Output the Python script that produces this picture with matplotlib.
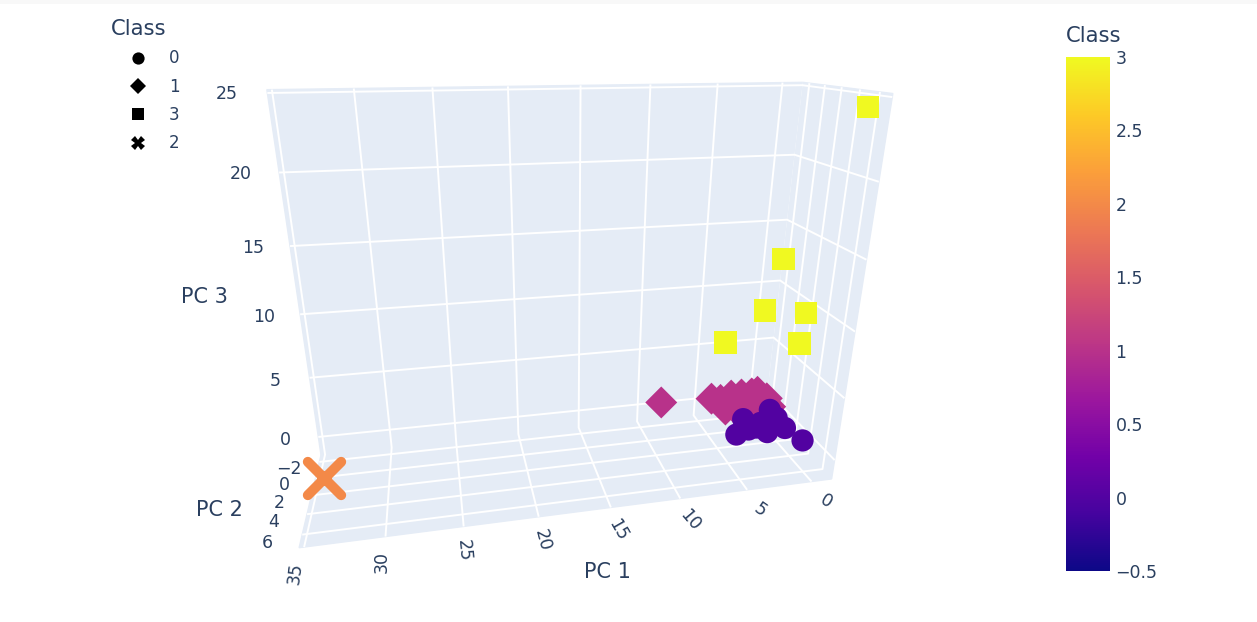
import matplotlib
matplotlib.use('Agg')
import matplotlib.pyplot as plt
from matplotlib.cm import ScalarMappable
from matplotlib.colors import LinearSegmentedColormap, Normalize
from matplotlib.lines import Line2D
from matplotlib.patches import Rectangle
from mpl_toolkits.mplot3d import proj3d

plt.rcParams['text.color'] = '#2a3f5f'
plt.rcParams['grid.color'] = 'white'
plt.rcParams['grid.linewidth'] = 1.4
plt.rcParams['grid.linestyle'] = '-'

################################################################################
# Values
# class 0
pc1_0 = [2.7, 1.7, 1.4, 0.4, -0.6, -1.0, 0.0, -1.55, 0.7, -2.3]
pc2_0 = [0.5, -0.5, 0.0, 0.0, -0.5, 0.0, 0.5, 0.5, 0.0, 2.0]
pc3_0 = [-1.6, -0.9, -1.6, -1.1, -0.3, -0.8, -1.7, -1.5, -1.5, -1.8]
# class 1
pc1_1 = [8.6, 4.4, 3.6, 3.6, 2.7, 1.8, 0.9, 0.4, -0.5, -0.6, 1.2, 2.6]
pc2_1 = [-1.2, -1.0, 0.0, -1.0, -1.0, -1.0, -1.0, -1.0, -1.0, -0.5, 0.0, 0.0]
pc3_1 = [1.0, 1.0, 0.5, 0.8, 1.1, 1.1, 1.1, 1.2, 0.5, 0.0, 0.2, 0.3]
# class 2
pc1_2 = [34.7]
pc2_2 = [0.0]
pc3_2 = [-1.7]
# class 3
pc1_3 = [-1.3, 0.6, 1.1, -0.5, 3.6, -0.3]
pc2_3 = [5.5, 1.0, 0.0, 3.0, -1.0, 3.0]
pc3_3 = [24.3, 13.2, 8.8, 9.7, 5.9, 7.3]

pc1_ticks = [0, 5, 10, 15, 20, 25, 30, 35]
pc2_ticks = [-2, 0, 2, 4, 6]
pc3_ticks = [0, 5, 10, 15, 20, 25]
pc1_rotations = [-30, -35, -50, -60, -75, -85, 90, 82]
cbar_ticks = [-0.5, 0, 0.5, 1, 1.5, 2, 2.5, 3]
cbar_labels = ['\u22120.5', '0', '0.5', '1', '1.5', '2', '2.5', '3']
legend_classes = ['0', '1', '3', '2']

plasma = ['#0d0887', '#46039f', '#7201a8', '#9c179e', '#bd3786',
          '#d8576b', '#ed7953', '#fb9f3a', '#fdca26', '#f0f921']

################################################################################
# Make figure
W, H = 1257, 622
fig = plt.figure(figsize=(W/100, H/100), dpi=100)
fig.add_artist(Rectangle((0, 1 - 4/H), 1, 4/H, transform=fig.transFigure, color='#f8f8f8', lw=0))

# box and camera were fitted to the corners of the box in the picture
xmin, xmax, ymin, ymax, zmin, zmax = -1.6, 35.3, -2.9, 7.2, -1.6, 25.2
size = 669.4
ax = fig.add_axes([225.5/W, -19.85/H, size/W, size/H], projection='3d')
ax.set_facecolor('none')
ax.set_xticks(pc1_ticks)
ax.set_yticks(pc2_ticks)
ax.set_zticks(pc3_ticks)
ax.set_xticklabels([])
ax.set_yticklabels([])
ax.set_zticklabels([])
ax.set_xlim(xmin, xmax, view_margin=0)
ax.set_ylim(ymin, ymax, view_margin=0)
ax.set_zlim(zmin, zmax, view_margin=0)
ax.view_init(20.7648, 78.6552)
ax.set_proj_type('persp', focal_length=0.19194)
ax.set_box_aspect((1, 0.28576, 0.73251))
ax.computed_zorder = False

for axis in (ax.xaxis, ax.yaxis, ax.zaxis):
    axis.set_pane_color('#e5ecf6')
    axis.pane.set_edgecolor('#e5ecf6')
    axis.line.set_color('none')
    axis.set_tick_params(color='none', width=0)

# classes
cmap = LinearSegmentedColormap.from_list('plasma_plotly', plasma)
norm = Normalize(-0.5, 3)
ax.scatter(pc1_2, pc2_2, pc3_2, c=[2]*len(pc1_2), cmap=cmap, norm=norm, marker='x',
           s=576, linewidths=7.2, capstyle='round', depthshade=False, zorder=3)
ax.scatter(pc1_3, pc2_3, pc3_3, c=[3]*len(pc1_3), cmap=cmap, norm=norm, marker='s',
           s=256, linewidths=0, depthshade=False, zorder=4)
ax.scatter(pc1_1, pc2_1, pc3_1, c=[1]*len(pc1_1), cmap=cmap, norm=norm, marker='D',
           s=265, linewidths=0, depthshade=False, zorder=5)
ax.scatter(pc1_0, pc2_0, pc3_0, c=[0]*len(pc1_0), cmap=cmap, norm=norm, marker='o',
           s=256, linewidths=0, depthshade=False, zorder=6)

# tick labels sit just outside the box, Text3D can't be rotated so project them here
M = ax.get_proj()
def box_label(x, y, z, s, rotation=0):
    u, v, _ = proj3d.proj_transform(x, y, z, M)
    ax.text2D(u, v, s, transform=ax.transData, fontsize=12.5, rotation=rotation,
              ha='center', va='center')

for t, r in zip(pc1_ticks, pc1_rotations):
    box_label(t + 0.15, ymax + 2.2, zmin, str(t), r)
for t in pc2_ticks:
    box_label(xmax + 2.2, t, zmin - 0.3, str(t).replace('-', '\u2212'))
for t in pc3_ticks:
    box_label(xmax + 2.4, ymin, t, str(t))

# axis titles
fig.text(607/W, 1 - 572/H, 'PC 1', fontsize=15, ha='center', va='center')
fig.text(219/W, 1 - 510/H, 'PC 2', fontsize=15, ha='center', va='center')
fig.text(204/W, 1 - 297/H, 'PC 3', fontsize=15, ha='center', va='center')

# symbol legend
handles = [Line2D([], [], ls='', marker='o', color='k', ms=8.8, mew=0),
           Line2D([], [], ls='', marker='D', color='k', ms=7.8, mew=0),
           Line2D([], [], ls='', marker='s', color='k', ms=8.6, mew=0),
           Line2D([], [], ls='', marker='X', color='k', ms=10, mew=0)]
leg = fig.legend(handles, legend_classes, title='Class', loc='upper left',
                 bbox_to_anchor=(111/W, 1 - 19/H), frameon=False, alignment='left',
                 borderpad=0, borderaxespad=0, fontsize=12, title_fontsize=15.2,
                 handlelength=3.24, handletextpad=0.24, labelspacing=0.62)
for text in leg.get_texts():
    text.set_color('#2a3f5f')
leg.get_title().set_color('#2a3f5f')

# colorbar
cax = fig.add_axes([1066/W, 1 - 571/H, 44/W, 514/H])
cb = fig.colorbar(ScalarMappable(norm=norm, cmap=cmap), cax=cax, ticks=cbar_ticks)
cb.set_ticklabels(cbar_labels)
cb.outline.set_visible(False)
cax.tick_params(length=0, pad=4, labelsize=12.5, labelcolor='#2a3f5f')
fig.text(1066/W, 1 - 36/H, 'Class', fontsize=15.2, ha='left', va='center')

fig.savefig('out.png', dpi=100)
